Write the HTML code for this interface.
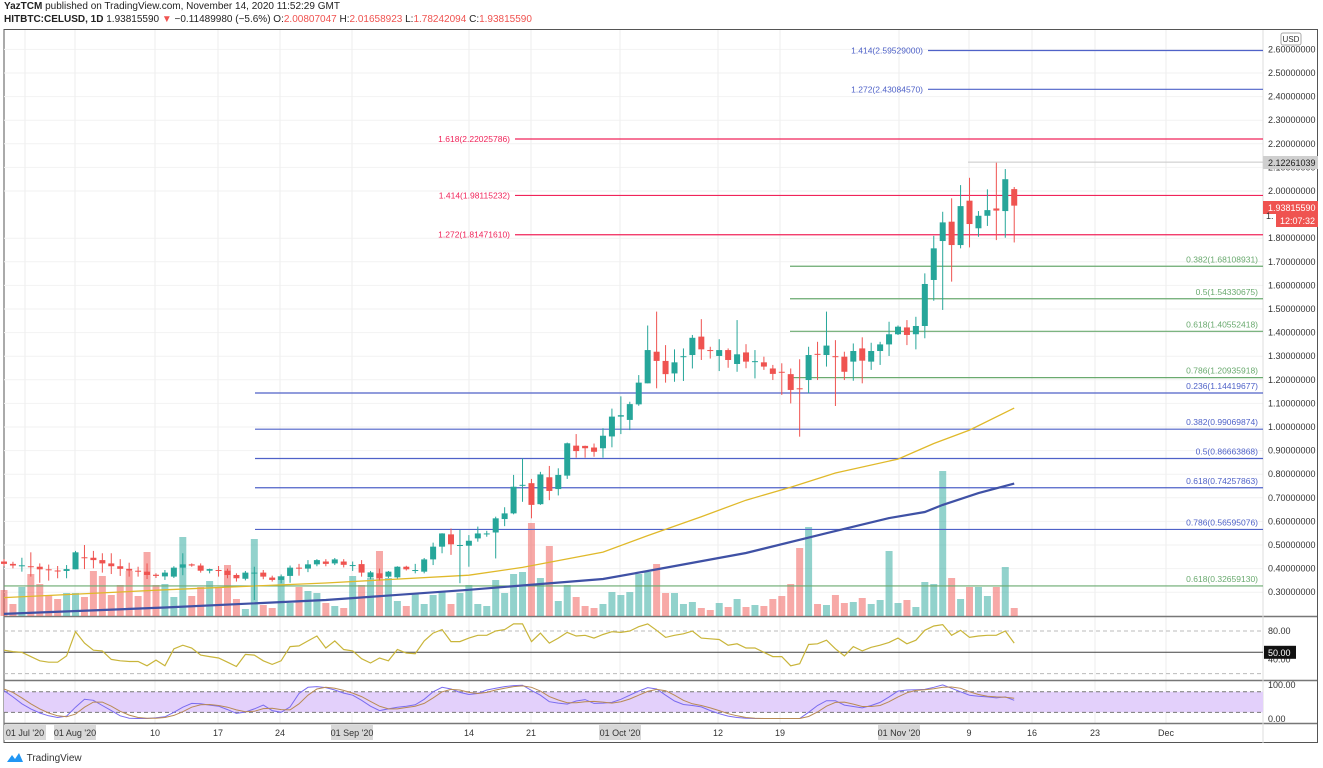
<!DOCTYPE html>
<html><head><meta charset="utf-8">
<style>
html,body{margin:0;padding:0;background:#fff;width:1323px;height:768px;overflow:hidden;font-family:"Liberation Sans",sans-serif;}
#hdr1{position:absolute;left:4px;top:1px;font-size:10px;color:#222;}
#hdr2{position:absolute;left:4px;top:14px;font-size:10px;color:#222;}
.rd{color:#ef5350}
svg{position:absolute;left:0;top:0}
#logo{position:absolute;left:6px;top:750px;font-size:10px;color:#333;}
</style></head><body>
<div id="hdr1"><b>YazTCM</b> published on TradingView.com, November 14, 2020 11:52:29 GMT</div>
<div id="hdr2"><b>HITBTC:CELUSD, 1D</b> 1.93815590 <span class="rd">▼</span> −0.11489980 (−5.6%) O:<span class="rd">2.00807047</span> H:<span class="rd">2.01658923</span> L:<span class="rd">1.78242094</span> C:<span class="rd">1.93815590</span></div>
<svg id="chart" width="1323" height="768"></svg>
<div id="logo"><svg width="18" height="11" style="position:relative;left:0;top:2px;display:inline-block" viewBox="0 0 18 11"><path d="M1 10 L6 3 L9 7 L13 1 L17 10 Z" fill="#2196f3"/></svg> TradingView</div>
<script>
const opens=[0.43,0.42,0.412,0.41,0.408,0.397,0.392,0.39,0.397,0.448,0.446,0.436,0.422,0.41,0.399,0.391,0.387,0.374,0.367,0.366,0.404,0.418,0.413,0.391,0.394,0.391,0.373,0.357,0.383,0.383,0.362,0.352,0.369,0.404,0.40,0.418,0.43,0.422,0.43,0.415,0.419,0.363,0.38,0.366,0.363,0.408,0.394,0.387,0.439,0.493,0.545,0.50,0.497,0.528,0.549,0.553,0.610,0.634,0.753,0.762,0.673,0.787,0.737,0.794,0.921,0.92,0.913,0.91,0.96,1.044,1.03,1.096,1.185,1.319,1.28,1.227,1.30,1.305,1.383,1.326,1.301,1.326,1.267,1.316,1.276,1.274,1.248,1.234,1.224,1.164,1.199,1.31,1.305,1.30,1.298,1.277,1.333,1.277,1.322,1.35,1.393,1.422,1.393,1.428,1.623,1.788,1.87,1.771,1.959,1.842,1.895,1.926,1.915,2.008];
const highs=[0.44,0.429,0.446,0.469,0.422,0.417,0.411,0.415,0.475,0.50,0.475,0.465,0.465,0.44,0.425,0.408,0.422,0.38,0.394,0.41,0.465,0.422,0.422,0.40,0.411,0.40,0.38,0.39,0.408,0.394,0.37,0.375,0.413,0.42,0.436,0.44,0.44,0.445,0.44,0.43,0.436,0.39,0.40,0.39,0.41,0.412,0.42,0.445,0.51,0.55,0.57,0.564,0.542,0.578,0.56,0.62,0.66,0.797,0.867,0.78,0.81,0.835,0.825,0.934,0.97,0.921,0.93,0.995,1.078,1.13,1.107,1.22,1.43,1.489,1.347,1.329,1.333,1.39,1.457,1.34,1.372,1.333,1.453,1.351,1.326,1.298,1.263,1.27,1.248,1.287,1.34,1.361,1.489,1.368,1.319,1.354,1.38,1.357,1.361,1.446,1.43,1.453,1.467,1.651,1.81,1.912,1.969,2.025,2.056,1.915,2.007,2.12,2.093,2.017];
const lows=[0.41,0.401,0.387,0.366,0.34,0.349,0.359,0.359,0.397,0.398,0.401,0.383,0.377,0.369,0.366,0.366,0.356,0.36,0.352,0.36,0.372,0.408,0.383,0.38,0.366,0.359,0.345,0.35,0.267,0.355,0.345,0.338,0.34,0.37,0.385,0.41,0.41,0.415,0.405,0.39,0.366,0.355,0.35,0.36,0.358,0.392,0.38,0.38,0.415,0.465,0.458,0.338,0.408,0.514,0.535,0.443,0.58,0.63,0.683,0.613,0.67,0.69,0.71,0.78,0.87,0.87,0.874,0.87,0.914,0.97,0.987,1.09,1.185,1.164,1.188,1.192,1.195,1.248,1.284,1.29,1.237,1.251,1.234,1.249,1.206,1.242,1.199,1.136,1.10,0.959,1.143,1.199,1.256,1.089,1.199,1.196,1.185,1.242,1.263,1.301,1.39,1.347,1.329,1.376,1.535,1.496,1.616,1.757,1.761,1.806,1.852,1.792,1.802,1.782];
const closes=[0.42,0.413,0.414,0.408,0.397,0.394,0.391,0.398,0.469,0.446,0.436,0.422,0.41,0.399,0.391,0.387,0.373,0.369,0.383,0.404,0.418,0.413,0.391,0.398,0.391,0.373,0.359,0.383,0.383,0.366,0.352,0.366,0.404,0.40,0.418,0.436,0.42,0.439,0.416,0.415,0.383,0.384,0.36,0.387,0.408,0.397,0.394,0.439,0.493,0.549,0.503,0.50,0.518,0.549,0.549,0.613,0.634,0.747,0.755,0.67,0.799,0.729,0.797,0.931,0.898,0.91,0.895,0.963,1.044,1.05,1.097,1.188,1.326,1.280,1.224,1.274,1.30,1.378,1.329,1.322,1.326,1.284,1.308,1.277,1.279,1.256,1.225,1.232,1.157,1.163,1.305,1.307,1.345,1.298,1.234,1.322,1.281,1.322,1.35,1.393,1.425,1.39,1.428,1.606,1.757,1.867,1.771,1.936,1.86,1.895,1.919,1.917,2.05,1.938];
const volumes=[26,12,29,42,32,21,17,23,23,19,45,40,21,31,45,20,64,31,32,19,79,20,29,35,29,51,17,7,77,11,8,40,13,29,25,23,13,10,8,40,31,38,65,38,15,10,23,12,21,25,12,23,31,12,10,36,23,42,44,93,38,70,15,31,19,10,8,12,24,21,24,42,44,52,23,23,12,14,8,6,13,9,17,9,11,10,17,20,32,68,89,12,11,21,13,14,18,12,16,65,13,16,9,34,32,145,38,17,29,29,20,29,49,8];
const ma100Idx=[0,18,36,52,58,67,72,78,83,88,93,100,104,108,113];
const ma100Val=[0.277,0.31,0.339,0.372,0.405,0.47,0.54,0.62,0.69,0.745,0.805,0.864,0.93,0.987,1.08];
const ma200Idx=[0,18,36,52,67,72,83,92,99,103,105,109,113];
const ma200Val=[0.208,0.235,0.267,0.31,0.356,0.39,0.466,0.55,0.614,0.64,0.67,0.72,0.76];
const rsiVals=[53,51,50,44,38,36,36,45,79,63,53,52,40,38,37,37,31,39,31,55,60,56,46,44,42,36,30,47,46,38,33,38,58,59,66,73,56,66,54,52,41,35,42,38,54,49,48,66,77,82,65,65,70,74,74,80,82,90,90,65,77,63,70,78,73,74,70,75,79,78,80,86,90,81,71,74,76,80,70,69,68,60,62,56,56,50,44,44,31,34,61,62,67,55,45,58,52,57,60,64,70,62,67,81,87,89,74,81,71,73,74,74,80,63];
const stochK=[83,65,45,30,18,10,5,9,35,58,55,40,25,10,3,2,2,4,7,20,35,46,45,41,38,28,17,21,30,41,25,20,36,75,93,95,92,85,76,70,55,38,25,30,35,38,42,58,80,93,88,78,72,75,85,90,95,98,99,84,70,51,47,44,53,57,46,47,49,58,70,82,92,88,70,53,43,40,36,25,16,9,5,3,2,2,2,2,2,2,20,40,54,54,41,37,33,40,49,65,82,85,86,87,93,100,90,80,70,67,65,62,65,55];
const stochD=[88,78,62,45,30,18,10,7,15,35,50,50,38,23,12,5,3,3,5,11,22,35,42,43,40,35,27,22,23,31,32,28,27,45,70,88,93,90,84,76,66,52,38,30,30,34,38,46,62,80,87,85,78,75,78,85,90,95,97,93,82,66,56,48,48,51,52,50,47,51,59,70,81,87,83,70,55,45,40,33,25,16,10,5,3,2,2,2,2,2,8,21,38,49,50,44,37,37,40,51,65,77,84,86,89,93,94,90,80,72,67,65,64,61];
const priceTicks=[2.6,2.5,2.4,2.3,2.2,2.1,2.0,1.8,1.7,1.6,1.5,1.4,1.3,1.2,1.1,1.0,0.9,0.8,0.7,0.6,0.5,0.4,0.3];
const timeLabels=["01 Jul '20","01 Aug '20","10","17","24","01 Sep '20","14","21","01 Oct '20","12","19","01 Nov '20","9","16","23","Dec"];
const timeLabelX=[25,75,155,218,280,352,469,531,620,718,780,899,969,1032,1095,1166];
const fibLevels=[2.59529,2.4308457,2.22025786,1.98115232,1.8147161,1.68108931,1.54330675,1.40552418,1.20935918,1.14419677,0.99069874,0.86663868,0.74257863,0.56595076,0.3265913];
const fibTexts=["1.414(2.59529000)","1.272(2.43084570)","1.618(2.22025786)","1.414(1.98115232)","1.272(1.81471610)","0.382(1.68108931)","0.5(1.54330675)","0.618(1.40552418)","0.786(1.20935918)","0.236(1.14419677)","0.382(0.99069874)","0.5(0.86663868)","0.618(0.74257863)","0.786(0.56595076)","0.618(0.32659130)"];
const fibKind=["b","b","r","r","r","g","g","g","g","b","b","b","b","b","g"];

const S=document.getElementById('chart');const NS='http://www.w3.org/2000/svg';
function el(t,a,p){const e=document.createElementNS(NS,t);for(const k in a)e.setAttribute(k,a[k]);(p||S).appendChild(e);return e;}
const X0=4,DX=8.94,RIGHT=1263;
const xOf=k=>X0+k*DX;
const yP=p=>191-(p-2)*236;
const yV=v=>616-v;
const yR=v=>631+(80-v)*0.71;
const yS=v=>719.2-v*0.343;

// frame
let f=el('rect',{x:4,y:29.5,width:1313.5,height:713,fill:'none',stroke:'#555','stroke-width':1});

// grid
const grid=el('g',{});
priceTicks.forEach(p=>el('line',{x1:4,x2:RIGHT,y1:yP(p),y2:yP(p),stroke:'#f2f2f2'},grid));
timeLabelX.forEach(x=>el('line',{x1:x,x2:x,y1:30,y2:723,stroke:'#eeeeee'},grid));
// pane separators
[[616.5,'main-pane-border'],[680.5,'rsi-pane-border'],[723.5,'stoch-pane-border']].forEach(([y,n])=>{const l=el('line',{x1:4,x2:1317,y1:y,y2:y,stroke:'#777','stroke-width':1.5});});
let ax=el('line',{x1:RIGHT,x2:RIGHT,y1:30,y2:743,stroke:'#ddd'});

// volume
const vg=el('g',{});
volumes.forEach((v,k)=>{const up=closes[k]>=opens[k];const r=el('rect',{x:xOf(k)-3.5,y:yV(v),width:7,height:v,fill:up?'rgba(38,166,154,0.5)':'rgba(239,83,80,0.5)'},vg);});

// fib lines
const fibColors={r:'#f0245a',b:'#4f62c8',g:'#6aaa6f'};
fibLevels.forEach((p,i)=>{const y=yP(p);const c=fibColors[fibKind[i]];
 let x1;if(i<2)x1=928;else if(i<5)x1=515;else if(i<9)x1=790;else if(i<14)x1=255;else x1=4;
 const l=el('line',{x1:x1,x2:RIGHT,y1:y,y2:y,stroke:c,'stroke-width':1.2});
 let t;
 if(i<5){t=el('text',{x:x1-5,y:y+3,'text-anchor':'end','font-size':'8.5px',fill:c});}
 else{t=el('text',{x:1258,y:y-4,'text-anchor':'end','font-size':'8.5px',fill:c});}
 t.textContent=fibTexts[i];
});
let hl=el('line',{x1:968,x2:RIGHT,y1:yP(2.12261039),y2:yP(2.12261039),stroke:'#c8c8c8'});

// MAs
function maPath(idx,val){return idx.map((k,i)=>(i?'L':'M')+xOf(k).toFixed(1)+' '+yP(val[i]).toFixed(1)).join(' ');}
let m1=el('path',{d:maPath(ma100Idx,ma100Val),fill:'none',stroke:'#e0b92a','stroke-width':1.3});
let m2=el('path',{d:maPath(ma200Idx,ma200Val),fill:'none',stroke:'#3f51a5','stroke-width':2.2});

// candles
const cg=el('g',{});
opens.forEach((o,k)=>{const c=closes[k];const up=c>=o;const col=up?'#26a69a':'#ef5350';const x=xOf(k);
 const w=el('line',{x1:x,x2:x,y1:yP(highs[k]),y2:yP(lows[k]),stroke:col,'stroke-width':1},cg);
 const t=Math.min(yP(o),yP(c));const h=Math.max(1,Math.abs(yP(o)-yP(c)));
 const b=el('rect',{x:x-3,y:t,width:6,height:h,fill:col},cg);});

// price axis labels
const pg=el('g',{});
priceTicks.forEach(p=>{const t=el('text',{x:1268,y:yP(p)+3,'font-size':'9px',fill:'#333'},pg);t.textContent=p.toFixed(8);});
let ub=el('rect',{x:1281,y:33,width:20,height:12,rx:2,fill:'#fff',stroke:'#aaa'});
let ut=el('text',{x:1291,y:42,'font-size':'8px','text-anchor':'middle',fill:'#333'});ut.textContent='USD';
let hb=el('rect',{x:1263,y:156,width:55,height:13,fill:'#cfcfcf'});
let ht=el('text',{x:1268,y:166,'font-size':'9px',fill:'#222'});ht.textContent='2.12261039';
let lb=el('rect',{x:1263,y:201,width:55,height:13,fill:'#ef5350'});
let lt=el('text',{x:1268,y:211,'font-size':'9px',fill:'#fff'});lt.textContent='1.93815590';
let p1=el('text',{x:1266,y:219,'font-size':'9px',fill:'#333'});p1.textContent='1.';
let cb=el('rect',{x:1276,y:214,width:42,height:13,fill:'#ef5350'});
let ct=el('text',{x:1280,y:224,'font-size':'9px',fill:'#fff'});ct.textContent='12:07:32';

// RSI pane
const rg=el('g',{});
[80,20].forEach(v=>el('line',{x1:4,x2:RIGHT,y1:yR(v),y2:yR(v),stroke:'#bbb','stroke-dasharray':'4 3'},rg));
el('line',{x1:4,x2:RIGHT,y1:yR(50),y2:yR(50),stroke:'#444'},rg);
let rp=el('path',{d:rsiVals.map((v,k)=>(k?'L':'M')+xOf(k).toFixed(1)+' '+yR(v).toFixed(1)).join(' '),fill:'none',stroke:'#c9b53a','stroke-width':1.2},rg);

let r80=el('text',{x:1268,y:yR(80)+3,'font-size':'9px',fill:'#333'});r80.textContent='80.00';
let r40=el('text',{x:1268,y:yR(40)+3,'font-size':'9px',fill:'#333'});r40.textContent='40.00';
let r50b=el('rect',{x:1264,y:yR(50)-6.5,width:32,height:13,fill:'#111'});
let r50=el('text',{x:1268,y:yR(50)+3.5,'font-size':'9px',fill:'#fff'});r50.textContent='50.00';

// Stoch RSI pane
const sg=el('g',{});
el('rect',{x:4,y:yS(80),width:RIGHT-4,height:yS(20)-yS(80),fill:'#e3d0fb'},sg);
[80,20].forEach(v=>el('line',{x1:4,x2:RIGHT,y1:yS(v),y2:yS(v),stroke:'#777','stroke-dasharray':'4 3'},sg));
let sk=el('path',{d:stochK.map((v,k)=>(k?'L':'M')+xOf(k).toFixed(1)+' '+yS(v).toFixed(1)).join(' '),fill:'none',stroke:'#7a6cf0','stroke-width':1},sg);

let sd=el('path',{d:stochD.map((v,k)=>(k?'L':'M')+xOf(k).toFixed(1)+' '+yS(v).toFixed(1)).join(' '),fill:'none',stroke:'#b88a55','stroke-width':1},sg);

let s100=el('text',{x:1268,y:688,'font-size':'9px',fill:'#333'});s100.textContent='100.00';
let s0=el('text',{x:1268,y:722,'font-size':'9px',fill:'#333'});s0.textContent='0.00';

// time axis
const tg=el('g',{});
timeLabels.forEach((s,i)=>{const x=timeLabelX[i];
 if(s.length>4){const b=el('rect',{x:x-21,y:725,width:42,height:15,fill:'#d8d8d8'},tg);}
 const t=el('text',{x:x,y:736,'font-size':'9px','text-anchor':'middle',fill:'#333'},tg);t.textContent=s;});
</script>
</body></html>
